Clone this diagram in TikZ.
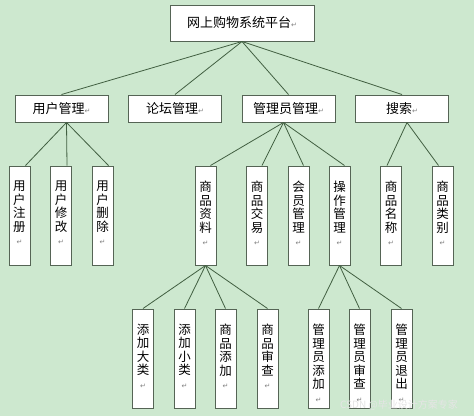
\documentclass[tikz,border=0pt]{standalone}
\usepackage{fontspec}
\setmainfont{Noto Sans CJK SC}
\newfontfamily\symfont{DejaVu Sans}
\definecolor{bgcol}{RGB}{205,232,207}
\definecolor{boxline}{RGB}{85,100,85}
\definecolor{linkcol}{RGB}{65,95,65}
\newcommand{\ret}{{\symfont\color{gray}\fontsize{7}{7}\selectfont ↵}}
\newcommand{\vtext}[1]{\parbox[c][99pt][t]{16pt}{\centering\vspace*{15pt}#1\\\ret}}
\tikzset{hbox/.style={draw=boxline,fill=white,line width=1pt,inner sep=0pt,
    minimum width=93pt,minimum height=27pt,font=\fontsize{13}{13}\selectfont}}
\tikzset{vbox/.style={draw=boxline,fill=white,line width=1pt,inner sep=0pt,
    minimum width=21pt,minimum height=99pt,font=\fontsize{12.5}{13.5}\selectfont}}
\tikzset{link/.style={draw=linkcol,line width=0.8pt}}

\begin{document}
\begin{tikzpicture}[x=1pt,y=-1pt]
    \fill[bgcol] (0,0) rectangle (474,416);
    \useasboundingbox (0,0) rectangle (474,416);
    \node[hbox,minimum width=144pt,minimum height=36pt] (root) at (242,23) {网上购物系统平台\ret};
    \node[hbox] (user) at (61.5,108.5) {用户管理\ret};
    \node[hbox] (forum) at (175,108.5) {论坛管理\ret};
    \node[hbox] (admin) at (288.5,108.5) {管理员管理\ret};
    \node[hbox] (search) at (402,108.5) {搜索\ret};
    \node[vbox] (reg) at (19.5,215.5) {\vtext{用\\户\\注\\册}};
    \node[vbox] (modify) at (61,215.5) {\vtext{用\\户\\修\\改}};
    \node[vbox] (delete) at (102.5,215.5) {\vtext{用\\户\\删\\除}};
    \node[vbox] (goodsinfo) at (205.5,215.5) {\vtext{商\\品\\资\\料}};
    \node[vbox] (trade) at (257,215.5) {\vtext{商\\品\\交\\易}};
    \node[vbox] (member) at (298.5,215.5) {\vtext{会\\员\\管\\理}};
    \node[vbox] (operate) at (339.5,215.5) {\vtext{操\\作\\管\\理}};
    \node[vbox] (gname) at (391,215.5) {\vtext{商\\品\\名\\称}};
    \node[vbox] (gtype) at (442.5,215.5) {\vtext{商\\品\\类\\别}};
    \node[vbox] (addbig) at (143,358.5) {\vtext{添\\加\\大\\类}};
    \node[vbox] (addsmall) at (184.5,358.5) {\vtext{添\\加\\小\\类}};
    \node[vbox] (goodsadd) at (225.5,358.5) {\vtext{商\\品\\添\\加}};
    \node[vbox] (goodscheck) at (267.5,358.5) {\vtext{商\\品\\审\\查}};
    \node[vbox] (adminadd) at (318.5,358.5) {\vtext{管\\理\\员\\添\\加}};
    \node[vbox] (admincheck) at (359.5,358.5) {\vtext{管\\理\\员\\审\\查}};
    \node[vbox] (adminquit) at (401.5,358.5) {\vtext{管\\理\\员\\退\\出}};
    \foreach \c in {user,forum,admin,search}
        \draw[link] (root.south) -- (\c.north);
    \foreach \c in {reg,modify,delete}
        \draw[link] ([xshift=5pt]user.south) -- ([xshift=6pt]\c.north);
    \foreach \c in {goodsinfo,trade,member,operate}
        \draw[link] ([xshift=-5pt]admin.south) -- ([xshift=5pt]\c.north);
    \foreach \c in {gname,gtype}
        \draw[link] ([xshift=5pt]search.south) -- ([xshift=-4pt]\c.north);
    \foreach \c in {addbig,addsmall,goodsadd,goodscheck}
        \draw[link] (goodsinfo.south) -- (\c.north);
    \foreach \c in {adminadd,admincheck,adminquit}
        \draw[link] (operate.south) -- (\c.north);
    \node[text=white!80!gray,font=\fontsize{10}{10}\selectfont] (mark) at (399,405) {CSDN @毕业设计方案专家};
\end{tikzpicture}
\end{document}
